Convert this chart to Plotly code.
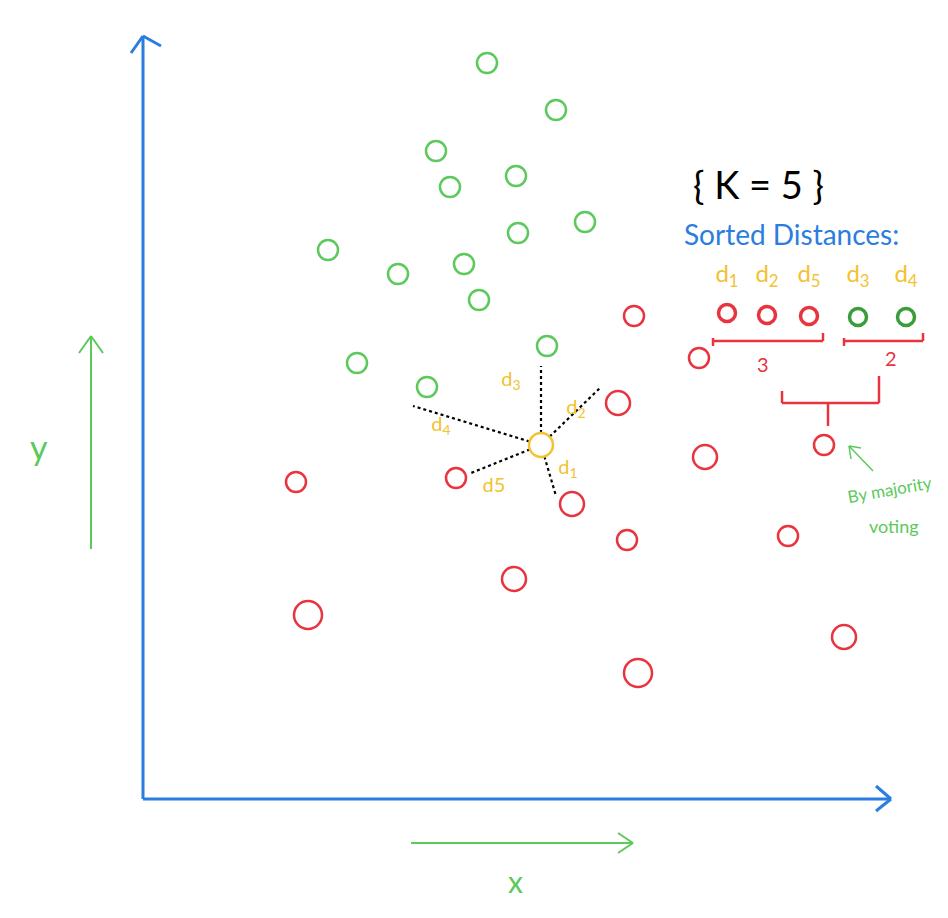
import plotly.graph_objects as go

green_x = [486,555,435,515,449,584,517,327,463,397,478,356,546,426]
green_y = [62,109,150,175,186,221,232,249,263,273,299,362,345,386]
red_x = [633,698,617,704,823,295,455,571,626,787,513,307,843,637]
red_y = [315,357,402,456,444,481,477,503,539,535,578,614,636,672]
red_size = [20,20,24,24,20,20,20,24,20,20,24,28,24,28]
query = (540,444)
# neighbours: d1,d2,d3,d4,d5
nb_x = [555,600,540,412,470]
nb_y = [495,386,365,405,472]
nb_lab = ["d<sub>1</sub>","d<sub>2</sub>","d<sub>3</sub>","d<sub>4</sub>","d5"]
nb_lab_pos = [(567,468),(575,408),(510,380),(440,425),(493,486)]
sorted_x = [726,766,808,857,905]
sorted_y = [312,314,315,316,316]
sorted_col = ["#e8343f"]*3 + ["#3a9c3a"]*2
sorted_lab = ["d<sub>1</sub>","d<sub>2</sub>","d<sub>5</sub>","d<sub>3</sub>","d<sub>4</sub>"]

BLUE="#2b7de0"; GREEN="#5cc95c"; RED="#e8343f"; YEL="#f2c230"

fig = go.Figure()
for x,y in zip(nb_x,nb_y):
    fig.add_trace(go.Scatter(x=[query[0],x],y=[query[1],y],mode="lines",
        line=dict(color="black",width=2.2,dash="dot"),hoverinfo="skip"))
fig.add_trace(go.Scatter(x=green_x,y=green_y,mode="markers",
    marker=dict(size=20,color="white",opacity=1,line=dict(color=GREEN,width=2.5))))
fig.add_trace(go.Scatter(x=red_x,y=red_y,mode="markers",
    marker=dict(size=red_size,color="white",opacity=1,line=dict(color=RED,width=2.5))))
fig.add_trace(go.Scatter(x=[query[0]],y=[query[1]],mode="markers",
    marker=dict(size=24,color="white",opacity=1,line=dict(color=YEL,width=2.5))))
fig.add_trace(go.Scatter(x=sorted_x,y=sorted_y,mode="markers",
    marker=dict(size=17,color="white",opacity=1,line=dict(color=sorted_col,width=3.5))))
fig.add_trace(go.Scatter(x=sorted_x,y=[275]*5,mode="text",text=sorted_lab,
    textfont=dict(color=YEL,size=24,family="Lato")))
fig.add_trace(go.Scatter(x=[p[0] for p in nb_lab_pos],y=[p[1] for p in nb_lab_pos],
    mode="text",text=nb_lab,textfont=dict(color=YEL,size=20,family="Lato")))

shapes=[]
def line(x0,y0,x1,y1,c,w=3):
    shapes.append(dict(type="line",x0=x0,y0=y0,x1=x1,y1=y1,line=dict(color=c,width=w)))
line(142,798,142,35,BLUE); line(142,35,130,52,BLUE); line(142,35,160,45,BLUE)
line(142,798,890,798,BLUE); line(890,798,875,785,BLUE); line(890,798,875,810,BLUE)
line(90,548,90,335,GREEN,2); line(90,335,78,352,GREEN,2); line(90,335,102,352,GREEN,2)
line(410,842,632,842,GREEN,2); line(632,842,617,832,GREEN,2); line(632,842,617,852,GREEN,2)
line(712,345,712,337,RED,2.5); line(712,340,822,340,RED,2.5); line(822,340,822,332,RED,2.5)
line(843,345,843,337,RED,2.5); line(843,340,922,340,RED,2.5); line(922,340,922,332,RED,2.5)
line(781,390,781,402,RED,2.5); line(781,402,878,402,RED,2.5); line(878,402,878,375,RED,2.5)
line(827,402,827,425,RED,2.5)
line(872,470,848,445,GREEN,1.5); line(848,445,850,458,GREEN,1.5); line(848,445,860,447,GREEN,1.5)

ann=[
 dict(x=38,y=445,text="y",font=dict(color=GREEN,size=34,family="Lato")),
 dict(x=514,y=880,text="x",font=dict(color=GREEN,size=30,family="Lato")),
 dict(x=757,y=183,text="{ K = 5 }",font=dict(color="black",size=38,family="Lato")),
 dict(x=790,y=233,text="Sorted Distances:",font=dict(color=BLUE,size=28,family="Lato")),
 dict(x=762,y=363,text="3",font=dict(color=RED,size=20,family="Lato")),
 dict(x=890,y=357,text="2",font=dict(color=RED,size=20,family="Lato")),
 dict(x=888,y=488,text="By majority",font=dict(color=GREEN,size=17,family="Lato"),textangle=-10),
 dict(x=893,y=525,text="voting",font=dict(color=GREEN,size=18,family="Lato")),
]
for a in ann: a.update(showarrow=False)

fig.update_layout(width=948,height=918,margin=dict(l=0,r=0,t=0,b=0),
    plot_bgcolor="white",paper_bgcolor="white",showlegend=False,shapes=shapes,annotations=ann,
    xaxis=dict(range=[7,955],visible=False),
    yaxis=dict(range=[925,7],visible=False))
fig.write_html("out.html")
